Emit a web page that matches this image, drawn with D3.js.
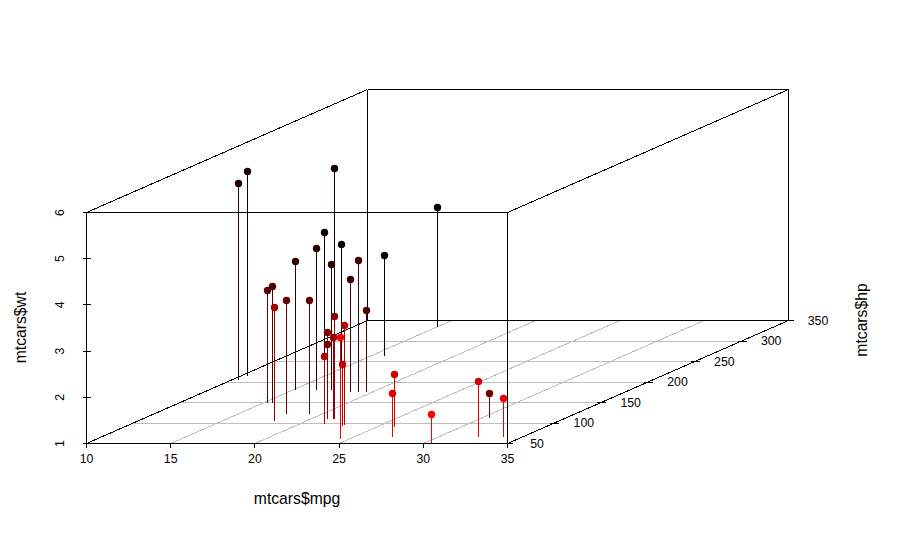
<!DOCTYPE html>
<html>
<head>
<meta charset="utf-8">
<script src="https://cdn.jsdelivr.net/npm/d3@7/dist/d3.min.js"></script>
<style>
html,body{margin:0;padding:0;background:#fff}
svg{display:block}
text{font-family:"Liberation Sans",Arial,sans-serif;fill:#000}
</style>
</head>
<body>
<svg id="chart" width="898" height="556"></svg>
<script>
// mtcars: fuel economy, horsepower and weight
const mpg = [21,21,22.8,21.4,18.7,18.1,14.3,24.4,22.8,19.2,17.8,16.4,17.3,15.2,10.4,10.4,14.7,32.4,30.4,33.9,21.5,15.5,15.2,13.3,19.2,27.3,26,30.4,15.8,19.7,15,21.4];
const hp = [110,110,93,110,175,105,245,62,95,123,123,180,180,180,205,215,230,66,52,65,97,150,150,245,175,66,91,113,264,175,335,109];
const wt = [2.62,2.875,2.32,3.215,3.44,3.46,3.57,3.19,3.15,3.44,3.44,4.07,3.73,3.78,5.25,5.424,5.345,2.2,1.615,1.835,2.465,3.52,3.435,3.84,3.845,1.935,2.14,1.513,3.17,2.77,3.57,2.78];
const mpgTicks = [10,15,20,25,30,35];
const hpTicks = [50,100,150,200,250,300,350];
const wtTicks = [1,2,3,4,5,6];

const svg = d3.select("#chart");

// Oblique projection: mpg runs along the front edge, hp recedes up and right, wt rises
const xMpg = d3.scaleLinear().domain([10,35]).range([86.5,507.5]);
const hpDx = d3.scaleLinear().domain([50,350]).range([0,281]);
const hpDy = d3.scaleLinear().domain([50,350]).range([0,-123]);
const yWt = d3.scaleLinear().domain([1,6]).range([443.5,212.5]);
const px = (m,h) => xMpg(m) + hpDx(h);
const py = (h,w) => yWt(w) + hpDy(h);
const snap = v => Math.floor(v) + 0.5;

const seg = (g, a, b, color) => g.append("line")
  .attr("x1",px(a[0],a[1])).attr("y1",py(a[1],a[2]))
  .attr("x2",px(b[0],b[1])).attr("y2",py(b[1],b[2]))
  .attr("stroke",color).attr("stroke-width",1)
  .attr("shape-rendering","crispEdges");

// Floor grid
const grid = svg.append("g");
mpgTicks.slice(1,-1).forEach(m => seg(grid,[m,50,1],[m,350,1],"#bebebe"));
hpTicks.slice(1,-1).forEach(h => seg(grid,[10,h,1],[35,h,1],"#bebebe"));

// Edges behind the points
const back = svg.append("g");
[
  [[10,350,1],[35,350,1]],
  [[10,350,1],[10,350,6]],
  [[35,350,1],[35,350,6]],
  [[10,350,6],[35,350,6]],
  [[10,50,1],[10,350,1]],
  [[35,50,1],[35,350,1]],
  [[10,50,6],[10,350,6]],
  [[35,50,6],[35,350,6]]
].forEach(e => seg(back,e[0],e[1],"#000"));

// Points are drawn back to front and shaded by their depth rank
const order = d3.range(mpg.length).sort((a,b) => d3.descending(hp[a],hp[b]));
const shade = d3.scalePow().exponent(1.3).domain([0,order.length-1]).range([0,255]);
const colorOf = rank => d3.rgb(Math.round(shade(rank)),0,0).formatHex();

const stems = svg.append("g");
const dots = svg.append("g");
order.forEach((i,rank) => {
  const c = colorOf(rank);
  seg(stems,[mpg[i],hp[i],1],[mpg[i],hp[i],wt[i]],c);
  dots.append("circle")
    .attr("cx",snap(px(mpg[i],hp[i]))).attr("cy",snap(py(hp[i],wt[i])))
    .attr("r",3.7).attr("fill",c);
});

// Front edges
const front = svg.append("g");
[
  [[10,50,1],[35,50,1]],
  [[10,50,1],[10,50,6]],
  [[35,50,1],[35,50,6]],
  [[10,50,6],[35,50,6]]
].forEach(e => seg(front,e[0],e[1],"#000"));

// mpg axis
const axisMpg = svg.append("g").attr("transform","translate(0,443.5)")
  .call(d3.axisBottom(xMpg).tickValues(mpgTicks).tickSize(4).offset(0).tickFormat(d3.format("d")));
axisMpg.select(".domain").remove();
axisMpg.selectAll("line").attr("shape-rendering","crispEdges").attr("stroke","#000");
axisMpg.selectAll("text").attr("y",0).attr("dy",null).attr("dominant-baseline","central")
  .attr("transform","translate(0,15.5)").attr("font-size",12.3).attr("font-family",null);

// wt axis, with ticks crossing the edge and labels turned upright
const axisWt = svg.append("g").attr("transform","translate(86.5,0)")
  .call(d3.axisLeft(yWt).tickValues(wtTicks).tickSize(4).offset(0).tickFormat(d3.format("d")));
axisWt.select(".domain").remove();
axisWt.selectAll("line").attr("x1",4).attr("x2",-4).attr("shape-rendering","crispEdges").attr("stroke","#000");
axisWt.selectAll("text").attr("x",0).attr("dy",null).attr("text-anchor","middle")
  .attr("dominant-baseline","central").attr("transform","translate(-27,0) rotate(-90)")
  .attr("font-size",12.3).attr("font-family",null);

// hp axis ticks and labels, placed along the receding floor edge
const hpAxis = svg.append("g");
hpTicks.forEach(h => {
  const x = px(35,h), y = py(h,1);
  hpAxis.append("line").attr("x1",x-4).attr("x2",x+5).attr("y1",y).attr("y2",y)
    .attr("stroke","#000").attr("shape-rendering","crispEdges");
  hpAxis.append("text").attr("x",x+29.5).attr("y",y).attr("text-anchor","middle")
    .attr("dominant-baseline","central").attr("font-size",12.3).text(h);
});

// Axis titles
const title = (x,y,rot,t) => svg.append("text")
  .attr("transform",`translate(${x},${y}) rotate(${rot})`)
  .attr("text-anchor","middle").attr("dominant-baseline","central")
  .attr("font-size",15.7).text(t);
title(297,498,0,"mtcars$mpg");
title(20,327.5,-90,"mtcars$wt");
title(861,320,-90,"mtcars$hp");
</script>
</body>
</html>
